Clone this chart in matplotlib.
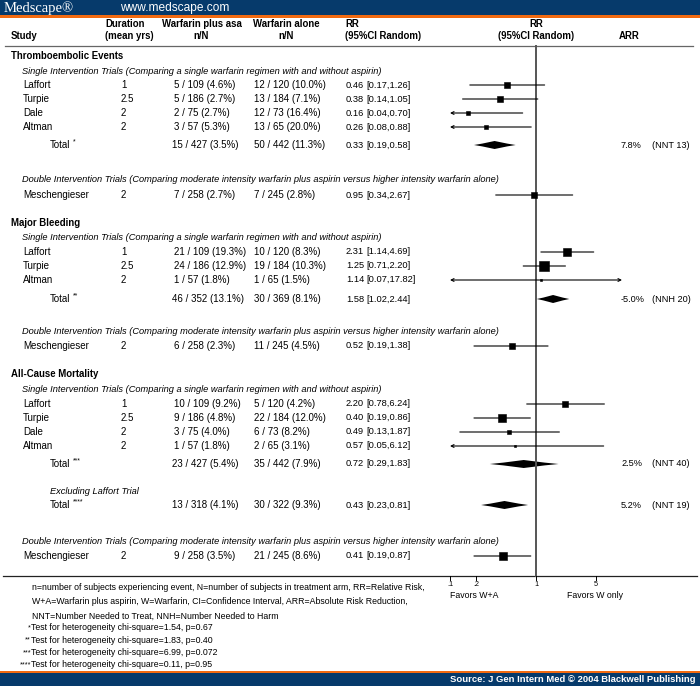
import numpy as np
import matplotlib
matplotlib.use('Agg')
import matplotlib.pyplot as plt
from matplotlib.patches import Rectangle

plt.rcParams['font.family'] = ['Liberation Sans', 'DejaVu Sans']

##########################################################################
# Data
# Thromboembolic events, single intervention trials
te_study = ['Laffort', 'Turpie', 'Dale', 'Altman']
te_dur = ['1', '2.5', '2', '2']
te_wa_n = [5, 5, 2, 3]
te_wa_N = [109, 186, 75, 57]
te_wa_pct = [4.6, 2.7, 2.7, 5.3]
te_w_n = [12, 13, 12, 13]
te_w_N = [120, 184, 73, 65]
te_w_pct = [10.0, 7.1, 16.4, 20.0]
te_rr = [0.46, 0.38, 0.16, 0.26]
te_lo = [0.17, 0.14, 0.04, 0.08]
te_hi = [1.26, 1.05, 0.70, 0.88]
te_tot = dict(wa=(15, 427, 3.5), w=(50, 442, 11.3), rr=(0.33, 0.19, 0.58),
              arr='7.8%', nn='(NNT 13)', stars='*')
te_dbl = dict(study='Meschengieser', dur='2', wa=(7, 258, 2.7), w=(7, 245, 2.8),
              rr=(0.95, 0.34, 2.67))

# Major bleeding
bl_study = ['Laffort', 'Turpie', 'Altman']
bl_dur = ['1', '2.5', '2']
bl_wa_n = [21, 24, 1]
bl_wa_N = [109, 186, 57]
bl_wa_pct = [19.3, 12.9, 1.8]
bl_w_n = [10, 19, 1]
bl_w_N = [120, 184, 65]
bl_w_pct = [8.3, 10.3, 1.5]
bl_rr = [2.31, 1.25, 1.14]
bl_lo = [1.14, 0.71, 0.07]
bl_hi = [4.69, 2.20, 17.82]
bl_tot = dict(wa=(46, 352, 13.1), w=(30, 369, 8.1), rr=(1.58, 1.02, 2.44),
              arr='-5.0%', nn='(NNH 20)', stars='**')
bl_dbl = dict(study='Meschengieser', dur='2', wa=(6, 258, 2.3), w=(11, 245, 4.5),
              rr=(0.52, 0.19, 1.38))

# All-cause mortality
mo_study = ['Laffort', 'Turpie', 'Dale', 'Altman']
mo_dur = ['1', '2.5', '2', '2']
mo_wa_n = [10, 9, 3, 1]
mo_wa_N = [109, 186, 75, 57]
mo_wa_pct = [9.2, 4.8, 4.0, 1.8]
mo_w_n = [5, 22, 6, 2]
mo_w_N = [120, 184, 73, 65]
mo_w_pct = [4.2, 12.0, 8.2, 3.1]
mo_rr = [2.20, 0.40, 0.49, 0.57]
mo_lo = [0.78, 0.19, 0.13, 0.05]
mo_hi = [6.24, 0.86, 1.87, 6.12]
mo_tot = dict(wa=(23, 427, 5.4), w=(35, 442, 7.9), rr=(0.72, 0.29, 1.83),
              arr='2.5%', nn='(NNT 40)', stars='***')
mo_excl = dict(wa=(13, 318, 4.1), w=(30, 322, 9.3), rr=(0.43, 0.23, 0.81),
               arr='5.2%', nn='(NNT 19)', stars='****')
mo_dbl = dict(study='Meschengieser', dur='2', wa=(9, 258, 3.5), w=(21, 245, 8.6),
              rr=(0.41, 0.19, 0.87))

tick_vals = [0.1, 0.2, 1, 5]
tick_labels = ['.1', '.2', '1', '5']

single_txt = 'Single Intervention Trials (Comparing a single warfarin regimen with and without aspirin)'
double_txt = ('Double Intervention Trials (Comparing moderate intensity warfarin plus aspirin '
              'versus higher intensity warfarin alone)')
notes = ['n=number of subjects experiencing event, N=number of subjects in treatment arm, RR=Relative Risk,',
         'W+A=Warfarin plus aspirin, W=Warfarin, CI=Confidence Interval, ARR=Absolute Risk Reduction,',
         'NNT=Number Needed to Treat, NNH=Number Needed to Harm']
het_stars = ['*', '**', '***', '****']
het_txt = ['Test for heterogeneity chi-square=1.54, p=0.67',
           'Test for heterogeneity chi-square=1.83, p=0.40',
           'Test for heterogeneity chi-square=6.99, p=0.072',
           'Test for heterogeneity chi-square=0.11, p=0.95']

##########################################################################
NAVY = '#063a6b'
ORANGE = '#f26a10'
FS = 7.0      # table rows
FSR = 6.7     # RR / CI columns
FSH = 6.9     # bold headers
FSI = 6.7     # italic sub-headings
FSN = 6.3     # footnotes

fig = plt.figure(figsize=(7.0, 6.86), dpi=100)
ax = fig.add_axes([0, 0, 1, 1])          # text / layout in pixel units
ax.set_xlim(0, 700)
ax.set_ylim(686, 0)
ax.axis('off')

fp = fig.add_axes([0, 0, 1, 1])          # forest plot on a log scale
fp.set_xscale('log')
fp.set_xlim(10**(-536/86.0), 10**((700-536)/86.0))
fp.set_ylim(686, 0)
fp.axis('off')
fp.patch.set_alpha(0)

# banners
ax.add_patch(Rectangle((0, 0), 700, 15, color=NAVY, lw=0))
ax.add_patch(Rectangle((0, 15), 700, 2.5, color=ORANGE, lw=0))
ax.add_patch(Rectangle((0, 670.5), 700, 2.5, color=ORANGE, lw=0))
ax.add_patch(Rectangle((0, 673), 700, 13, color=NAVY, lw=0))
ax.text(4, 8, 'Medscape\u00ae', color='white', fontsize=10.5, family='Liberation Serif',
        va='center', ha='left')
ax.text(120, 8, 'www.medscape.com', color='white', fontsize=8.6, va='center', ha='left')
ax.text(695, 680, 'Source: J Gen Intern Med \u00a9 2004 Blackwell Publishing', color='white',
        fontsize=6.8, weight='bold', va='center', ha='right')


def t(x, y, s, **kw):
    kw.setdefault('fontsize', FS)
    kw.setdefault('va', 'center')
    ax.text(x, y, s, **kw)


# header
t(11, 36, 'Study', weight='bold', fontsize=FSH)
t(105, 24, 'Duration', weight='bold', fontsize=FSH)
t(105, 36, '(mean yrs)', weight='bold', fontsize=FSH)
t(162, 24, 'Warfarin plus asa', weight='bold', fontsize=FSH)
t(201, 36, 'n/N', weight='bold', ha='center', fontsize=FSH)
t(253, 24, 'Warfarin alone', weight='bold', fontsize=FSH)
t(286, 36, 'n/N', weight='bold', ha='center', fontsize=FSH)
t(345, 24, 'RR', weight='bold', fontsize=FSH)
t(345, 36, '(95%CI Random)', weight='bold', fontsize=FSH)
t(536, 24, 'RR', weight='bold', ha='center', fontsize=FSH)
t(536, 36, '(95%CI Random)', weight='bold', ha='center', fontsize=FSH)
t(619, 36, 'ARR', weight='bold', fontsize=FSH)
ax.plot([5, 693], [46, 46], color='#666666', lw=0.9)
ax.plot([3, 697], [576, 576], color='#222222', lw=0.9)

# reference line at RR = 1
fp.plot([1, 1], [46, 576], color='#555555', lw=1.4)


def nN(v):
    return '%d / %d (%.1f%%)' % v


def ci_line(y, rr, lo, hi):
    a, b = max(lo, 0.1), min(hi, 10)
    if lo < 0.1 and hi > 10:
        style = '<->'
    elif lo < 0.1:
        style = '<-'
    elif hi > 10:
        style = '->'
    else:
        style = '-'
    fp.annotate('', xy=(b, y), xytext=(a, y),
                arrowprops=dict(arrowstyle=style, lw=0.8, color='black',
                                mutation_scale=5, shrinkA=0, shrinkB=0))
    # box size from the inverse-variance weight
    se = (np.log(hi) - np.log(lo)) / 3.92
    ms = max(1.5, 2.05 * np.sqrt(1.0 / se**2))
    fp.plot([rr], [y], 's', ms=ms, color='black', mec='black', mew=0.4)


def diamond(y, rr, lo, hi):
    la, le, lb = np.log10(lo), np.log10(rr), np.log10(hi)
    xs = [la, la + 0.4*(le-la), le, lb - 0.4*(lb-le), lb,
          lb - 0.4*(lb-le), le, la + 0.4*(le-la)]
    ys = [y, y-1.4, y-4.0, y-1.4, y, y+1.4, y+4.0, y+1.4]
    fp.fill(10**np.array(xs), ys, color='black', lw=0)


def rr_cols(y, rr, lo, hi):
    t(346, y, '%.2f' % rr, fontsize=FSR)
    t(366, y, '[%.2f,%.2f]' % (lo, hi), fontsize=FSR)


def trial_row(y, name, dur, wa, w, rr, lo, hi):
    t(23, y, name)
    t(121, y, dur)
    t(174, y, nN(wa))
    t(254, y, nN(w))
    rr_cols(y, rr, lo, hi)
    ci_line(y, rr, lo, hi)


def total_row(y, d, label='Total'):
    t(50, y, label)
    t(73, y - 3, d['stars'], fontsize=5)
    t(172, y, nN(d['wa']))
    t(254, y, nN(d['w']))
    rr, lo, hi = d['rr']
    rr_cols(y, rr, lo, hi)
    t(621, y, d['arr'], fontsize=6.6)
    t(652, y, d['nn'], fontsize=6.6)
    diamond(y, rr, lo, hi)


def section(title, y0, study, dur, wa_n, wa_N, wa_p, w_n, w_N, w_p, rr, lo, hi, rows):
    t(11, y0, title, weight='bold', fontsize=FSH)
    t(22, y0 + 15, single_txt, style='italic', fontsize=FSI)
    for i in range(len(study)):
        trial_row(rows[i], study[i], dur[i], (wa_n[i], wa_N[i], wa_p[i]),
                  (w_n[i], w_N[i], w_p[i]), rr[i], lo[i], hi[i])


def double_block(y, d):
    t(22, y, double_txt, style='italic', fontsize=FSI)
    trial_row(y + 15, d['study'], d['dur'], d['wa'], d['w'], *d['rr'])


section('Thromboembolic Events', 56, te_study, te_dur, te_wa_n, te_wa_N, te_wa_pct,
        te_w_n, te_w_N, te_w_pct, te_rr, te_lo, te_hi, [85, 99, 113, 127])
total_row(145, te_tot)
double_block(180, te_dbl)

section('Major Bleeding', 223, bl_study, bl_dur, bl_wa_n, bl_wa_N, bl_wa_pct,
        bl_w_n, bl_w_N, bl_w_pct, bl_rr, bl_lo, bl_hi, [252, 266, 280])
total_row(299, bl_tot)
double_block(331, bl_dbl)

section('All-Cause Mortality', 374, mo_study, mo_dur, mo_wa_n, mo_wa_N, mo_wa_pct,
        mo_w_n, mo_w_N, mo_w_pct, mo_rr, mo_lo, mo_hi, [404, 418, 432, 446])
total_row(464, mo_tot)
t(50, 492, 'Excluding Laffort Trial', style='italic', fontsize=FSI)
total_row(505, mo_excl)
double_block(541, mo_dbl)

# axis ticks
for v, lab in zip(tick_vals, tick_labels):
    fp.plot([v, v], [576, 579.5], color='black', lw=0.7)
    fp.text(v, 585, lab, fontsize=5.2, ha='center', va='center')
fp.text(0.1, 596, 'Favors W+A', fontsize=FSN, ha='left', va='center')
fp.text(2.3, 596, 'Favors W only', fontsize=FSN, ha='left', va='center')

# footnotes
for i, s in enumerate(notes):
    t(32, 588 + 14*i, s, fontsize=FSN)
for i in range(4):
    t(31, 628 + 12.3*i, het_stars[i], ha='right', fontsize=5.2)
    t(31, 628 + 12.3*i, het_txt[i], fontsize=FSN)

fig.savefig('out.png', dpi=100)
